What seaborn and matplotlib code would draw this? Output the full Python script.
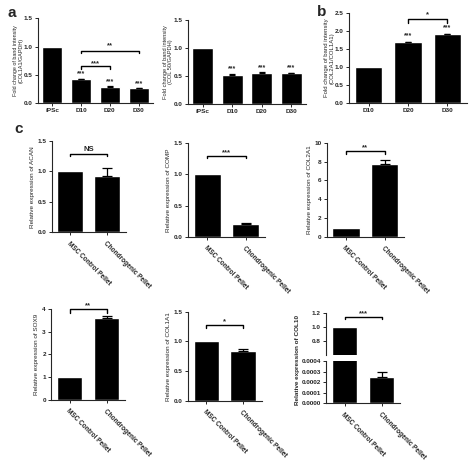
import matplotlib
matplotlib.use("Agg")
import matplotlib.pyplot as plt
import seaborn as sns
import pandas as pd

sns.set_theme(style="ticks")
plt.rcParams['font.family'] = ['Liberation Sans', 'DejaVu Sans']
plt.rcParams['font.weight'] = 'bold'

W, H = 474, 462
days4 = ["iPSc", "D10", "D20", "D30"]
days3 = ["D10", "D20", "D30"]
pellet = ["MSC Control Pellet", "Chondrogenic Pellet"]

a1_vals = [1.0, 0.42, 0.29, 0.26]
a1_errs = [0.0, 0.01, 0.005, 0.005]
a2_vals = [1.0, 0.53, 0.56, 0.55]
a2_errs = [0.0, 0.01, 0.01, 0.01]
b_vals = [1.0, 1.69, 1.91]
b_errs = [0.0, 0.01, 0.02]
acan_vals = [1.0, 0.92]
acan_errs = [0.0, 0.14]
comp_vals = [1.0, 0.20]
comp_errs = [0.0, 0.02]
col2a1_vals = [1.0, 7.7]
col2a1_errs = [0.0, 0.42]
sox9_vals = [1.0, 3.6]
sox9_errs = [0.0, 0.1]
col1a1_vals = [1.0, 0.84]
col1a1_errs = [0.0, 0.03]
col10_vals = [1.0, 0.00025]
col10_errs = [0.0, 0.00005]

fig = plt.figure(figsize=(W / 100, H / 100), dpi=100, facecolor="white")

def make_ax(l, t, r, b):
    return fig.add_axes([l / W, 1 - b / H, (r - l) / W, (b - t) / H])

def bars(ax, cats, vals, errs, ymax, ticks, ticklabels=None, ymin=0):
    df = pd.DataFrame({"cat": cats, "val": vals})
    sns.barplot(data=df, x="cat", y="val", color="black", saturation=1, width=0.7, ax=ax)
    idx = [i for i, e in enumerate(errs) if e > 0]
    ax.errorbar(idx, [vals[i] for i in idx], yerr=[[0] * len(idx), [errs[i] for i in idx]], fmt="none",
                ecolor="black", elinewidth=0.9, capsize=3.6 if len(cats) == 2 else 2.5, capthick=0.9)
    ax.set_xlim(-0.5, len(cats) - 0.5)
    ax.set_ylim(ymin, ymax)
    ax.set_yticks(ticks)
    ax.set_yticklabels(ticklabels if ticklabels else [f"{t:.1f}" for t in ticks])
    ax.set_xlabel("")
    ax.set_ylabel("")
    sns.despine(ax=ax)
    for s in ("left", "bottom"):
        ax.spines[s].set_linewidth(0.8)
    ax.tick_params(length=2.2, width=0.7, labelsize=4.6, pad=1.5)

def bracket(ax, x0, x1, y, tip, label, fs=5.5, dy=0):
    ax.plot([x0, x0, x1, x1], [y - tip, y, y, y - tip], color="black", lw=1.0, clip_on=False)
    ax.text((x0 + x1) / 2, y + dy, label, ha="center", va="bottom", fontsize=fs, clip_on=False)

def stars(ax, xs, ys, label="***"):
    for x, y in zip(xs, ys):
        ax.text(x, y, label, ha="center", va="center", fontsize=5)

def rot_labels(ax):
    ax.set_xticks(range(2))
    ax.set_xticklabels(pellet, rotation=-45, ha="left", rotation_mode="anchor", fontsize=4.7)
    ax.tick_params(axis="x", pad=3.5)

# panel a, left
ax = make_ax(38, 18.3, 153, 103)
bars(ax, days4, a1_vals, a1_errs, 1.5, [0, 0.5, 1.0, 1.5])
ax.set_ylabel("Fold change of band intensity\n(COL1A1/GAPDH)", fontsize=3.9, labelpad=0.5, linespacing=1.0)
stars(ax, [1, 2, 3], [0.51, 0.37, 0.35])
bracket(ax, 1, 2, 0.65, 0.04, "***", fs=5.5, dy=-0.02)
bracket(ax, 1, 3, 0.92, 0.04, "**", fs=5.5, dy=0.04)

# panel a, right
ax = make_ax(188, 20, 306, 104.3)
bars(ax, days4, a2_vals, a2_errs, 1.5, [0, 0.5, 1.0, 1.5])
ax.set_ylabel("Fold change of band intensity\n(COL 50/GAPDH)", fontsize=4.1, labelpad=0.8, linespacing=1.0)
stars(ax, [1, 2, 3], [0.64, 0.65, 0.65])

# panel b
ax = make_ax(349, 13.3, 467, 102.7)
bars(ax, days3, b_vals, b_errs, 2.5, [0, 0.5, 1.0, 1.5, 2.0, 2.5])
ax.set_ylabel("Fold change of band intensity\n(COL2A1/COL1A1)", fontsize=4.3, labelpad=0.5, linespacing=1.0)
stars(ax, [1, 2], [1.87, 2.09])
bracket(ax, 1, 2, 2.33, 0.1, "*", fs=5.5, dy=0.02)

# panel c, top row
ax = make_ax(51.7, 141, 126, 232.3)
bars(ax, pellet, acan_vals, acan_errs, 1.5, [0, 0.5, 1.0, 1.5])
ax.set_ylabel("Relative expression of ACAN", fontsize=4.6, labelpad=2)
bracket(ax, 0, 1, 1.29, 0.04, "NS", fs=5.5, dy=0.01)
rot_labels(ax)

ax = make_ax(188, 142.7, 265, 237)
bars(ax, pellet, comp_vals, comp_errs, 1.5, [0, 0.5, 1.0, 1.5])
ax.set_ylabel("Relative expression of COMP", fontsize=4.6, labelpad=2)
bracket(ax, 0, 1, 1.29, 0.04, "***", fs=5.5, dy=0.0)
rot_labels(ax)

ax = make_ax(326.7, 142.7, 404, 237)
bars(ax, pellet, col2a1_vals, col2a1_errs, 10, [0, 2, 4, 6, 8, 10], ["0", "2", "4", "6", "8", "10"])
ax.set_ylabel("Relative expression of COL2A1", fontsize=4.6, labelpad=2)
bracket(ax, 0, 1, 9.1, 0.3, "**", fs=5.5, dy=0.0)
rot_labels(ax)

# panel c, bottom row
ax = make_ax(51, 309, 125, 399.7)
bars(ax, pellet, sox9_vals, sox9_errs, 4, [0, 1, 2, 3, 4], ["0", "1", "2", "3", "4"])
ax.set_ylabel("Relative expression of SOX9", fontsize=4.6, labelpad=2)
bracket(ax, 0, 1, 3.98, 0.14, "**", fs=5.5, dy=0.0)
rot_labels(ax)

ax = make_ax(188, 311.7, 261.7, 401)
bars(ax, pellet, col1a1_vals, col1a1_errs, 1.5, [0, 0.5, 1.0, 1.5])
ax.set_ylabel("Relative expression of COL1A1", fontsize=4.6, labelpad=2)
bracket(ax, 0, 1, 1.28, 0.05, "*", fs=5.5, dy=0.0)
rot_labels(ax)

# COL10 with a broken axis
low = make_ax(326, 361.3, 400, 403.3)
bars(low, pellet, col10_vals, col10_errs, 0.0004, [0, 0.0001, 0.0002, 0.0003, 0.0004],
     ["0.0000", "0.0001", "0.0002", "0.0003", "0.0004"])
rot_labels(low)
high = make_ax(326, 312.7, 400, 355)
bars(high, pellet, col10_vals, col10_errs, 1.2, [0.8, 1.0, 1.2], ["0.8", "1.0", "1.2"], ymin=0.6)
high.spines["bottom"].set_visible(False)
high.tick_params(axis="x", length=0, labelbottom=False)
bracket(high, 0, 1, 1.14, 0.03, "***", fs=5.5, dy=0.0)
fig.text(298 / W, 1 - 360 / H, "Relative expression of COL10", rotation=90,
         ha="center", va="center", fontsize=4.6)

# panel letters
for letter, x, y, fs in [("a", 7, 13, 11), ("b", 317, 12, 11), ("c", 14, 129, 11)]:
    fig.text(x / W, 1 - y / H, letter, fontsize=fs, fontweight="bold", va="center")

fig.savefig("out.png", dpi=100, facecolor="white")
